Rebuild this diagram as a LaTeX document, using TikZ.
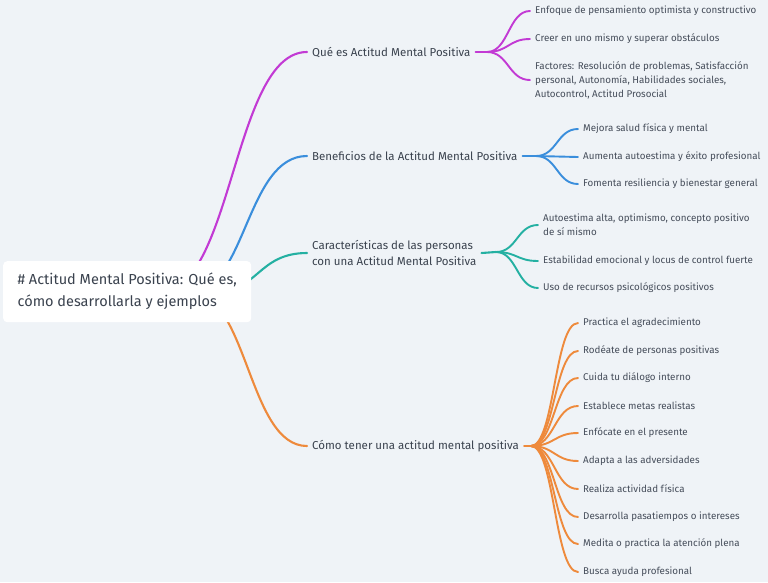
\documentclass[tikz,border=0pt]{standalone}
\usepackage{fontspec}
\setmainfont{Fira Sans}
\usetikzlibrary{calc}
\definecolor{bgc}{HTML}{EFF3F7}
\definecolor{cpur}{HTML}{C23AD4}
\definecolor{cblu}{HTML}{3A8EDC}
\definecolor{ctea}{HTML}{24B0A2}
\definecolor{cora}{HTML}{EE8A3C}
\definecolor{txt}{HTML}{3A424E}
\definecolor{txtc}{HTML}{454D5A}
\pgfdeclarelayer{bglayer}
\pgfdeclarelayer{lines}
\pgfsetlayers{bglayer,lines,main}
\tikzset{
  rootbox/.style={fill=white, rounded corners=4pt, anchor=north west, minimum width=248pt, minimum height=61pt, inner xsep=13pt, align=left, text=txt, font=\fontsize{14.5}{22}\selectfont},
  branchnode/.style={anchor=west, inner xsep=5pt, inner ysep=2pt, align=left, text=txt, font=\fontsize{11.5}{16}\selectfont},
  childnode/.style={anchor=west, inner xsep=5pt, inner ysep=2pt, align=left, text=txtc, font=\fontsize{9.8}{14}\selectfont},
  mainline/.style={line width=2.1pt, line cap=round},
  subline/.style={line width=1.9pt, line cap=round},
}
\newcommand{\forkto}[3]{%
  \draw[subline,#3] let \p1=(#1), \p2=(#2.west) in (\p1) .. controls ({(\x1+\x2)/2},\y1) and ({(\x1+\x2)/2},\y2) .. (\p2);}
\begin{document}
\begin{tikzpicture}[x=1pt,y=-1pt]
\begin{pgfonlayer}{bglayer}
\fill[bgc] (0,0) rectangle (768,582);
\end{pgfonlayer}
\useasboundingbox (0,0) rectangle (768,582);

% root
\node[rootbox] (root) at (3,261) {\# Actitud Mental Positiva: Qué es,\\cómo desarrollarla y ejemplos};
\coordinate (o1) at (160,292);
\coordinate (o2) at (190,292);
\coordinate (o3) at (215,292);
\coordinate (o4) at (190,292);

% branches
\node[branchnode] (b1) at (307,52) {Qué es Actitud Mental Positiva};
\node[branchnode] (b2) at (307,156) {Beneficios de la Actitud Mental Positiva};
\node[branchnode] (b3) at (307,253) {Características de las personas\\con una Actitud Mental Positiva};
\node[branchnode] (b4) at (307,446) {Cómo tener una actitud mental positiva};

\coordinate (f1) at (487,52);
\coordinate (f2) at (536,156);
\coordinate (f3) at (496,252);
\coordinate (f4) at (531,446);

% children purple
\node[childnode] (p1) at (530,11) {Enfoque de pensamiento optimista y constructivo};
\node[childnode] (p2) at (530,39) {Creer en uno mismo y superar obstáculos};
\node[childnode] (p3) at (530,80) {Factores: Resolución de problemas, Satisfacción\\personal, Autonomía, Habilidades sociales,\\Autocontrol, Actitud Prosocial};
% children blue
\node[childnode] (q1) at (578,129) {Mejora salud física y mental};
\node[childnode] (q2) at (578,157) {Aumenta autoestima y éxito profesional};
\node[childnode] (q3) at (578,184) {Fomenta resiliencia y bienestar general};
% children teal
\node[childnode] (t1) at (538,225) {Autoestima alta, optimismo, concepto positivo\\de sí mismo};
\node[childnode] (t2) at (538,261) {Estabilidad emocional y locus de control fuerte};
\node[childnode] (t3) at (538,288) {Uso de recursos psicológicos positivos};
% children orange
\node[childnode] (r1) at (578,323) {Practica el agradecimiento};
\node[childnode] (r2) at (578,351) {Rodéate de personas positivas};
\node[childnode] (r3) at (578,378) {Cuida tu diálogo interno};
\node[childnode] (r4) at (578,406) {Establece metas realistas};
\node[childnode] (r5) at (578,433) {Enfócate en el presente};
\node[childnode] (r6) at (578,461) {Adapta a las adversidades};
\node[childnode] (r7) at (578,489) {Realiza actividad física};
\node[childnode] (r8) at (578,517) {Desarrolla pasatiempos o intereses};
\node[childnode] (r9) at (578,544) {Medita o practica la atención plena};
\node[childnode] (r10) at (578,572) {Busca ayuda profesional};

\begin{pgfonlayer}{lines}
% root to branches
\draw[mainline,cpur] (o1) .. controls (233,292) and (233,52) .. (b1.west);
\draw[mainline,cblu] (o2) .. controls (246,292) and (246,156) .. (b2.west);
\draw[mainline,ctea] (o3) .. controls (258,292) and (258,253) .. (b3.west);
\draw[mainline,cora] (o4) .. controls (248,292) and (248,446) .. (b4.west);
% branch stubs
\draw[mainline,cpur] (b1.east) -- (f1);
\draw[mainline,cblu] (b2.east) -- (f2);
\draw[mainline,ctea] (b3.east) -- (f3);
\draw[mainline,cora] (b4.east) -- (f4);
% forks
\forkto{f1}{p1}{cpur}\forkto{f1}{p2}{cpur}\forkto{f1}{p3}{cpur}
\forkto{f2}{q1}{cblu}\forkto{f2}{q2}{cblu}\forkto{f2}{q3}{cblu}
\forkto{f3}{t1}{ctea}\forkto{f3}{t2}{ctea}\forkto{f3}{t3}{ctea}
\forkto{f4}{r1}{cora}\forkto{f4}{r2}{cora}\forkto{f4}{r3}{cora}\forkto{f4}{r4}{cora}\forkto{f4}{r5}{cora}
\forkto{f4}{r6}{cora}\forkto{f4}{r7}{cora}\forkto{f4}{r8}{cora}\forkto{f4}{r9}{cora}\forkto{f4}{r10}{cora}
\end{pgfonlayer}
\end{tikzpicture}
\end{document}
